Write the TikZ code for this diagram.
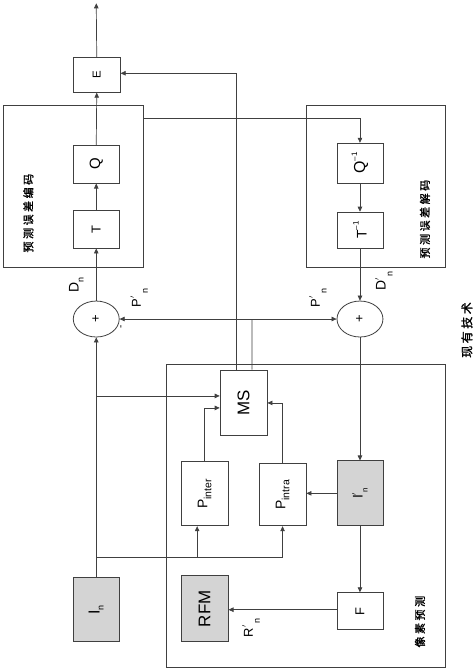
\documentclass[tikz,border=0pt]{standalone}
\usepackage{fontspec}
\setmainfont{Liberation Sans}
\newfontfamily\cjkf[AutoFakeBold=1.5]{Noto Sans CJK SC}
\usetikzlibrary{arrows.meta,shapes.geometric}
\newcommand{\fs}[1]{\fontsize{#1}{#1}\selectfont}
\newcommand{\lo}[2]{\raisebox{-#1}{\fs{8}#2}}
\newcommand{\cjkgap}{\hspace{2.6pt}}
\newcommand{\minusone}{\raisebox{8pt}{\fs{8}\textendash 1}}
\begin{document}
\begin{tikzpicture}[x=1bp,y=-1bp,
  line width=0.7bp,
  every path/.style={draw=black!75},
  box/.style={draw=black!75, line width=0.8bp, rectangle, inner sep=0pt},
  shbox/.style={box, fill=black!17},
  circ/.style={draw=black!75, line width=0.8bp, ellipse, inner sep=0pt, minimum width=46bp, minimum height=36bp},
  arr/.style={-{Triangle[length=5bp,width=4.5bp]}},
  darr/.style={{Triangle[length=5bp,width=4.5bp]}-{Triangle[length=5bp,width=4.5bp]}},
  lbl/.style={rotate=90, inner sep=0pt},
]
\useasboundingbox (0,0) rectangle (474,671);
\fill[white] (0,0) rectangle (474,671);

% outer group boxes
\node[box, minimum width=140bp, minimum height=162bp] (enc) at (73,186) {};
\node[box, minimum width=140bp, minimum height=162bp] (dec) at (376,186) {};
\node[box, minimum width=280bp, minimum height=304bp] (pix) at (306,516) {};

% blocks
\node[box, minimum width=47bp, minimum height=35bp] (E) at (96.5,74.5) {\rotatebox{90}{\fs{11.5}E}};
\node[box, minimum width=46bp, minimum height=38bp] (Q) at (96,164) {\rotatebox{90}{\fs{15}Q}};
\node[box, minimum width=46bp, minimum height=38bp] (T) at (96,229) {\rotatebox{90}{\fs{13}T}};
\node[box, minimum width=46bp, minimum height=40bp] (Qi) at (360,163) {\rotatebox{90}{\fs{16}Q\minusone}};
\node[box, minimum width=46bp, minimum height=36bp] (Ti) at (360,230) {\rotatebox{90}{\fs{14}T\minusone}};
\node[circ] (c1) at (96,319) {\rotatebox{90}{\fs{13}+}};
\node[circ] (c2) at (360,319) {\rotatebox{90}{\fs{13}+}};
\node[box, minimum width=47bp, minimum height=65bp] (MS) at (243.5,402.5) {\rotatebox{90}{\fs{17}MS}};
\node[box, minimum width=47bp, minimum height=64bp] (Pinter) at (204.5,494) {\rotatebox{90}{\fs{14}P\lo{4pt}{\fs{10.5}inter}}};
\node[box, minimum width=47bp, minimum height=62bp] (Pintra) at (282.5,495) {\rotatebox{90}{\fs{14}P\lo{4pt}{\fs{10.5}intra}}};
\node[shbox, minimum width=46bp, minimum height=65bp] (Ipn) at (360,493.5) {\rotatebox{90}{\fs{14}I\raisebox{3pt}{\fs{10}$'$}\lo{5pt}{n}}};
\node[box, minimum width=46bp, minimum height=37bp] (F) at (360,611.5) {\rotatebox{90}{\fs{13}F}};
\node[shbox, minimum width=47bp, minimum height=66bp] (RFM) at (204.5,609) {\rotatebox{90}{\fs{17}RFM}};
\node[shbox, minimum width=46bp, minimum height=64bp] (In) at (96,610) {\rotatebox{90}{\fs{16}I\lo{4pt}{\fs{9}n}}};

% labels
\node[lbl] (encl) at (28,213) {\cjkf\bfseries\fs{11}预\cjkgap 测\cjkgap 误\cjkgap 差\cjkgap 编\cjkgap 码};
\node[lbl] (decl) at (425,219) {\cjkf\bfseries\fs{11}预\cjkgap 测\cjkgap 误\cjkgap 差\cjkgap 解\cjkgap 码};
\node[lbl] (pixl) at (420,622) {\cjkf\bfseries\fs{11}像\cjkgap 素\cjkgap 预\cjkgap 测};
\node[lbl] (prior) at (467,330) {\cjkf\bfseries\fs{12}现\cjkgap 有\cjkgap 技\cjkgap 术};
\node[lbl] (Dn) at (76,285) {\fs{14}D\lo{5pt}{\fs{9}n}};
\node[lbl] (minus) at (122,327) {\fs{10}-};
\node[lbl] (Pn1) at (139,298) {\fs{13}P\raisebox{3pt}{\fs{10}$'$}\hspace{2pt}\lo{7pt}{\fs{9}n}};
\node[lbl] (Pn2) at (318,298) {\fs{13}P\raisebox{3pt}{\fs{10}$'$}\hspace{2pt}\lo{7pt}{\fs{9}n}};
\node[lbl] (Dpn) at (384,281) {\fs{14}D\raisebox{3pt}{\fs{10}$'$}\hspace{2pt}\lo{7pt}{\fs{9}n}};
\node[lbl] (Rpn) at (251,628) {\fs{13}R\raisebox{3pt}{\fs{10}$'$}\hspace{2pt}\lo{7pt}{\fs{9}n}};

% coordinates
\coordinate (out) at (96,3);
\coordinate (brA) at (96,396);
\coordinate (brB) at (96,558);
\coordinate (pj) at (252,319);

% connectors
\draw[arr] (E.north) -- (out);
\draw[arr] (Q.north) -- (E.south);
\draw[arr] (T.north) -- (Q.south);
\draw[arr] (c1.north) -- (T.south);
\draw[arr] (In.north) -- (c1.south);
\draw[arr] ([xshift=-7.5bp]MS.north) |- ([yshift=1.5bp]E.east);
\draw[arr] (enc.east |- 0,118) -| (Qi.north);
\draw[arr] (Qi.south) -- (Ti.north);
\draw[arr] (Ti.south) -- (c2.north);
\draw[darr] (c1.east) -- (c2.west);
\draw ([xshift=8.5bp]MS.north) -- (pj);
\draw[arr] (c2.south) -- (Ipn.north);
\draw[arr] (Ipn.west) -- (Pintra.east |- Ipn.west);
\draw[arr] (Ipn.south) -- (F.north);
\draw[arr] (F.west |- 0,610) -- (RFM.east |- 0,610);
\draw[arr] (brA) -- (MS.west |- brA);
\draw[arr] (brB) -| (Pintra.south);
\draw[arr] (brB -| 197,0) -- (197,0 |- Pinter.south);
\draw[arr] (Pinter.north) |- ([yshift=-5.5bp]MS.west);
\draw[arr] (Pintra.north) |- ([yshift=-0.5bp]MS.east);
\end{tikzpicture}
\end{document}
